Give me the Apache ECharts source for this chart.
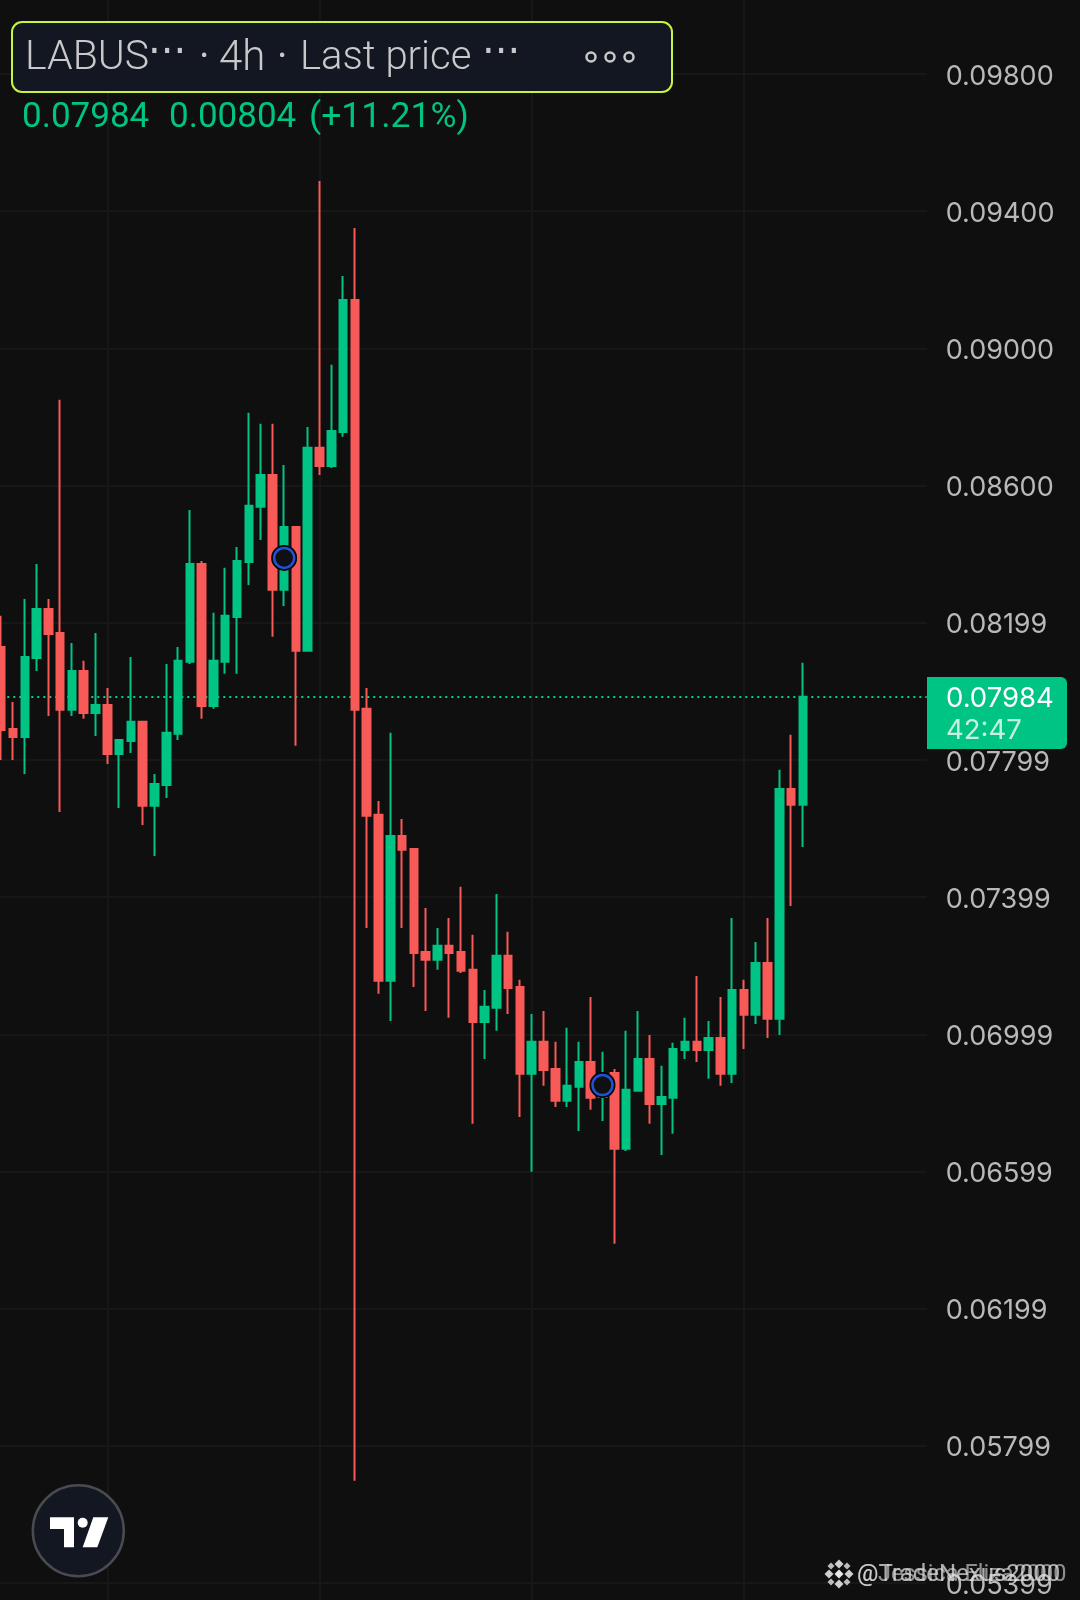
<!DOCTYPE html>
<html>
<head>
<meta charset="utf-8">
<style>html,body{margin:0;padding:0;background:#0f0f0f}#c{width:1080px;height:1600px}</style>
<script src="https://cdn.jsdelivr.net/npm/echarts@6/dist/echarts.min.js"></script>
</head>
<body>
<div id="c"></div>
<script>
const opens = [0.08129,0.07890,0.07867,0.08097,0.08240,0.08170,0.07946,0.08059,0.07937,0.07960,0.07817,0.07855,0.07911,0.07666,0.07727,0.07876,0.08086,0.08371,0.07957,0.08086,0.08217,0.08377,0.08538,0.08631,0.08296,0.08479,0.08118,0.08710,0.08657,0.08756,0.09141,0.07949,0.07640,0.07156,0.07578,0.07540,0.07240,0.07217,0.07258,0.07240,0.07188,0.07036,0.07077,0.07229,0.07138,0.06885,0.06978,0.06899,0.06806,0.06847,0.06919,0.06817,0.06887,0.06666,0.06835,0.06928,0.06797,0.06815,0.06954,0.06978,0.06954,0.06989,0.06885,0.07129,0.07057,0.07208,0.07045,0.07715,0.07669];
const closes = [0.07887,0.07867,0.08100,0.08240,0.08167,0.07946,0.08059,0.07937,0.07960,0.07817,0.07858,0.07911,0.07666,0.07730,0.07879,0.08089,0.08371,0.07957,0.08089,0.08220,0.08380,0.08541,0.08631,0.08296,0.08479,0.08118,0.08710,0.08657,0.08759,0.09141,0.07946,0.07637,0.07156,0.07578,0.07538,0.07237,0.07217,0.07258,0.07237,0.07185,0.07036,0.07080,0.07229,0.07135,0.06885,0.06978,0.06896,0.06806,0.06850,0.06919,0.06815,0.06873,0.06666,0.06838,0.06928,0.06797,0.06817,0.06957,0.06978,0.06954,0.06989,0.06885,0.07129,0.07057,0.07208,0.07045,0.07715,0.07669,0.07984];
const lows = [0.07800,0.07800,0.07759,0.08059,0.07928,0.07648,0.07928,0.07920,0.07870,0.07788,0.07660,0.07820,0.07610,0.07520,0.07689,0.07858,0.08080,0.07920,0.07949,0.08051,0.08051,0.08310,0.08441,0.08159,0.08249,0.07841,0.08118,0.08631,0.08651,0.08742,0.05698,0.07310,0.07118,0.07039,0.07310,0.07138,0.07068,0.07188,0.07048,0.07179,0.06739,0.06928,0.07010,0.07059,0.06759,0.06599,0.06850,0.06788,0.06788,0.06718,0.06780,0.06747,0.06389,0.06660,0.06835,0.06739,0.06648,0.06710,0.06928,0.06919,0.06870,0.06850,0.06858,0.06957,0.07030,0.06989,0.06998,0.07374,0.07546];
const highs = [0.08220,0.07969,0.08269,0.08371,0.08269,0.08850,0.08141,0.08089,0.08170,0.08010,0.07858,0.08100,0.07911,0.07759,0.08080,0.08129,0.08529,0.08380,0.08229,0.08360,0.08421,0.08812,0.08780,0.08780,0.08660,0.08479,0.08771,0.09488,0.08952,0.09211,0.09351,0.08010,0.07680,0.07879,0.07628,0.07540,0.07368,0.07310,0.07339,0.07430,0.07290,0.07129,0.07409,0.07299,0.07159,0.07059,0.07068,0.06978,0.07019,0.06978,0.07109,0.06949,0.06899,0.07010,0.07068,0.06998,0.06908,0.06975,0.07048,0.07170,0.07039,0.07109,0.07339,0.07159,0.07269,0.07339,0.07771,0.07873,0.08083];
const priceTickLabels = ['0.05000','0.05399','0.05799','0.06199','0.06599','0.06999','0.07399','0.07799','0.08199','0.08600','0.09000','0.09400','0.09800','0.10200'];
const markerIndexes = [24,51];
const markerPrices = [0.08389,0.06852];
const lastPrice = 0.07984;
const emptyBars = 10;

const GREEN='#00c483', RED='#f75a57', GRID='#171717', BG='#0f0f0f';
const categories = Array.from({length:opens.length+emptyBars},(_,i)=>String(i));
const candles = opens.map((o,i)=>[o,closes[i],lows[i],highs[i]]);
const markers = markerIndexes.map((x,i)=>[x,markerPrices[i]]);

function txt(text,x,y,size,fill,extra){
  return {type:'text',z:100,x,y,silent:true,style:Object.assign({text,fill,verticalAlign:'middle',align:'left',
    font:(extra&&extra.font)||('400 '+size+'px Roboto')},extra&&extra.style||{})};
}
function diamond(cx,cy,r,fill){
  return {type:'polygon',z:100,silent:true,shape:{points:[[cx,cy-r],[cx+r,cy],[cx,cy+r],[cx-r,cy]]},style:{fill}};
}
const TITLE='#c9c9cb';
const graphics=[
  {type:'rect',z:99,silent:true,shape:{x:12,y:22,width:660,height:70,r:10},style:{fill:'#131722',stroke:'#c6f53f',lineWidth:2}},
  txt('LABUS',25,59,41,TITLE,{font:'300 41px Roboto'}),
  txt('···',148,55,40,TITLE,{font:'400 40px "DejaVu Sans"'}),
  txt('·',199,59,40,TITLE),
  txt('4h',219,59,42,TITLE,{font:'300 42px Roboto'}),
  txt('·',277,59,40,TITLE),
  txt('Last price',300,59,40,TITLE,{font:'300 40px Roboto'}),
  txt('···',482,55,40,TITLE,{font:'400 40px "DejaVu Sans"'}),
  {type:'circle',z:100,silent:true,shape:{cx:591,cy:57,r:4.5},style:{fill:'none',stroke:TITLE,lineWidth:2.5}},
  {type:'circle',z:100,silent:true,shape:{cx:610,cy:57,r:4.5},style:{fill:'none',stroke:TITLE,lineWidth:2.5}},
  {type:'circle',z:100,silent:true,shape:{cx:629,cy:57,r:4.5},style:{fill:'none',stroke:TITLE,lineWidth:2.5}},
  txt('0.07984',22,118,35,GREEN),
  txt('0.00804',169,118,35,GREEN),
  txt('(+11.21%)',309,118,35.5,GREEN),
  {type:'rect',z:100,silent:true,shape:{x:927,y:677,width:140,height:72,r:[0,6,6,0]},style:{fill:GREEN}},
  txt('0.07984',946,699,27.5,'#ffffff',{font:'400 27.5px Inter'}),
  txt('42:47',946,731,27.5,'#c6efe0',{font:'400 27.5px Inter'}),
  {type:'circle',z:100,silent:true,shape:{cx:78.3,cy:1530.7,r:45.5},style:{fill:'#131722',stroke:'#4a4b50',lineWidth:2.5}},
  {type:'polygon',z:101,silent:true,shape:{points:[[50,1517.3],[74,1517.3],[74,1547.3],[64,1547.3],[64,1529],[50,1529]]},style:{fill:'#fff'}},
  {type:'circle',z:101,silent:true,shape:{cx:82.7,cy:1522.7,r:5},style:{fill:'#fff'}},
  {type:'polygon',z:101,silent:true,shape:{points:[[93.3,1517.3],[108.3,1517.3],[97.3,1547.3],[82.7,1547.3]]},style:{fill:'#fff'}},
  diamond(839,1574,4.5,'#e8e8e8'),diamond(839,1564,4.5,'#cfcfcf'),diamond(839,1584,4.5,'#cfcfcf'),
  diamond(829,1574,4.5,'#cfcfcf'),diamond(849,1574,4.5,'#cfcfcf'),diamond(847,1566,3.5,'#bdbdbd'),
  diamond(831,1566,3.5,'#bdbdbd'),diamond(847,1582,3.5,'#bdbdbd'),diamond(831,1582,3.5,'#bdbdbd'),
  txt('@TradeNexus2000',857,1575,24,'rgba(225,225,225,0.75)',{font:'400 24px Roboto'}),
  txt('@Jessica Eliza2000',857,1575,23.5,'rgba(225,225,225,0.6)',{font:'400 23.5px Roboto'})
];

const chart=echarts.init(document.getElementById('c'),null,{renderer:'canvas'});
chart.setOption({
  animation:false,
  backgroundColor:BG,
  graphic:graphics,
  grid:{left:-4.7,right:153.3,top:-63.2,bottom:-120.2,containLabel:false,outerBoundsMode:'none'},
  xAxis:{type:'category',data:categories,boundaryGap:true,
    axisLine:{show:false},axisTick:{show:false},axisLabel:{show:false},
    splitLine:{show:true,alignWithLabel:true,interval:(i)=>i%18===9,lineStyle:{color:GRID,width:2}}},
  yAxis:{type:'value',position:'right',min:0.05,max:0.102,interval:0.004,scale:true,
    axisLine:{show:false},axisTick:{show:false},
    axisLabel:{margin:19,color:'#b9b9b9',
      rich:{p:{fontFamily:'Inter',fontSize:27,color:'#b9b9b9',padding:[5,0,0,0]}},
      formatter:(v)=>'{p|'+priceTickLabels[Math.round((v-0.05)/0.004)]+'}'},
    splitLine:{show:true,lineStyle:{color:GRID,width:2}}},
  series:[
    {type:'candlestick',name:'LABUSDT',z:3,data:candles,barWidth:8,silent:true,
      itemStyle:{color:GREEN,color0:RED,borderColor:GREEN,borderColor0:RED,borderColorDoji:GREEN,borderWidth:2},
      markLine:{z:1,silent:true,symbol:'none',animation:false,precision:5,label:{show:false},
        lineStyle:{color:'#00d28e',type:[2,4],width:2},data:[{yAxis:lastPrice}]}},
    {type:'scatter',name:'marker halo',z:4,silent:true,data:markers,symbol:'circle',symbolSize:26,
      itemStyle:{color:'#050505',opacity:1}},
    {type:'scatter',name:'marker',z:5,silent:true,data:markers,symbol:'circle',symbolSize:20,
      itemStyle:{color:'#0f1014',borderColor:'#1f52d6',borderWidth:2.5,opacity:1}}
  ]
});
</script>
</body>
</html>
